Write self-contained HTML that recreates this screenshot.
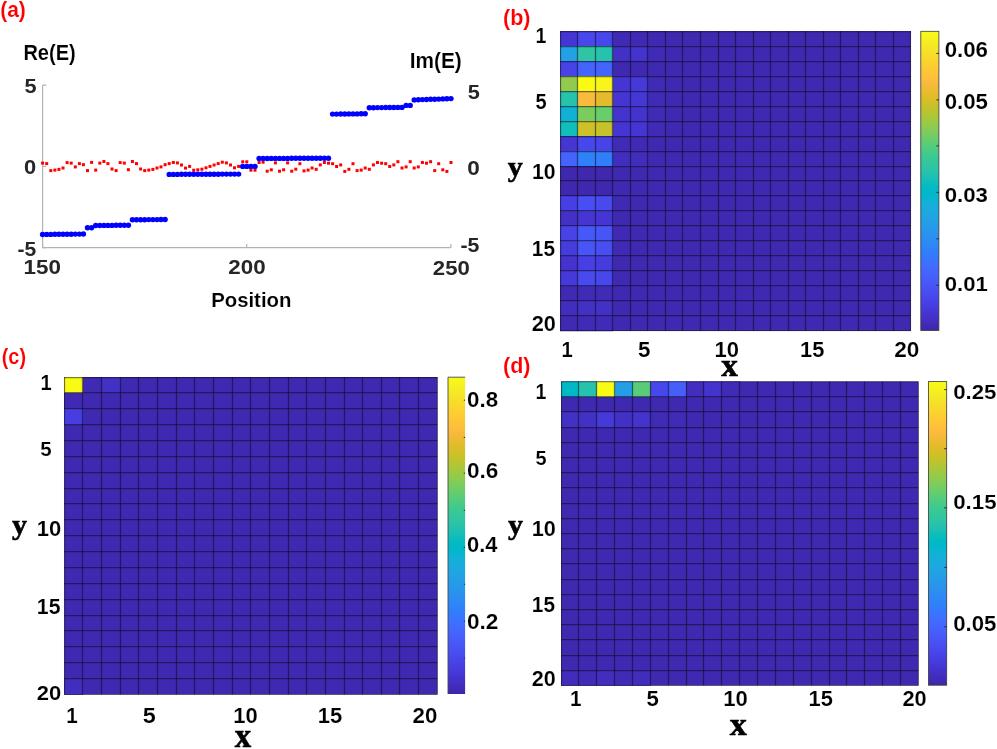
<!DOCTYPE html>
<html lang="en"><head><meta charset="utf-8"><title>Figure</title>
<style>html,body{margin:0;padding:0;background:#fff}body{width:997px;height:749px;overflow:hidden}svg{display:block}text{font-weight:bold}.s{font-family:"Liberation Sans",Arial,sans-serif}.r{font-family:"Liberation Serif","Times New Roman",serif}</style></head>
<body>
<svg width="997" height="749" viewBox="0 0 997 749">
<rect width="997" height="749" fill="#fff"/>
<defs><linearGradient id="pg_b" x1="0" y1="0" x2="0" y2="1"><stop offset="0.0000" stop-color="#f9fb15"/><stop offset="0.0159" stop-color="#f7f51b"/><stop offset="0.0317" stop-color="#f6ef20"/><stop offset="0.0476" stop-color="#f5e924"/><stop offset="0.0635" stop-color="#f5e327"/><stop offset="0.0794" stop-color="#f7dc2a"/><stop offset="0.0952" stop-color="#fad62d"/><stop offset="0.1111" stop-color="#fccf30"/><stop offset="0.1270" stop-color="#fec934"/><stop offset="0.1429" stop-color="#fec338"/><stop offset="0.1587" stop-color="#febe3c"/><stop offset="0.1746" stop-color="#f8ba3d"/><stop offset="0.1905" stop-color="#f0ba36"/><stop offset="0.2063" stop-color="#e6bb2d"/><stop offset="0.2222" stop-color="#dcbd29"/><stop offset="0.2381" stop-color="#d1bf27"/><stop offset="0.2540" stop-color="#c5c22a"/><stop offset="0.2698" stop-color="#b9c431"/><stop offset="0.2857" stop-color="#abc739"/><stop offset="0.3016" stop-color="#9dc943"/><stop offset="0.3175" stop-color="#8fcb4e"/><stop offset="0.3333" stop-color="#81cc59"/><stop offset="0.3492" stop-color="#72cd64"/><stop offset="0.3651" stop-color="#64cd6f"/><stop offset="0.3810" stop-color="#57cc7a"/><stop offset="0.3968" stop-color="#4acb84"/><stop offset="0.4127" stop-color="#3fca8e"/><stop offset="0.4286" stop-color="#37c897"/><stop offset="0.4444" stop-color="#31c69f"/><stop offset="0.4603" stop-color="#2cc4a7"/><stop offset="0.4762" stop-color="#24c1ae"/><stop offset="0.4921" stop-color="#19bfb6"/><stop offset="0.5079" stop-color="#0bbdbd"/><stop offset="0.5238" stop-color="#02bac3"/><stop offset="0.5397" stop-color="#01b8ca"/><stop offset="0.5556" stop-color="#08b5d0"/><stop offset="0.5714" stop-color="#12b1d6"/><stop offset="0.5873" stop-color="#18addb"/><stop offset="0.6032" stop-color="#1ca9df"/><stop offset="0.6190" stop-color="#20a5e3"/><stop offset="0.6349" stop-color="#23a0e5"/><stop offset="0.6508" stop-color="#259be8"/><stop offset="0.6667" stop-color="#2797eb"/><stop offset="0.6825" stop-color="#2b91ef"/><stop offset="0.6984" stop-color="#2d8cf3"/><stop offset="0.7143" stop-color="#2e87f7"/><stop offset="0.7302" stop-color="#2f81fa"/><stop offset="0.7460" stop-color="#327cfc"/><stop offset="0.7619" stop-color="#3875fe"/><stop offset="0.7778" stop-color="#3e6fff"/><stop offset="0.7937" stop-color="#4269fe"/><stop offset="0.8095" stop-color="#4563fd"/><stop offset="0.8254" stop-color="#465efb"/><stop offset="0.8413" stop-color="#4758f8"/><stop offset="0.8571" stop-color="#4852f4"/><stop offset="0.8730" stop-color="#484df0"/><stop offset="0.8889" stop-color="#4747eb"/><stop offset="0.9048" stop-color="#4741e5"/><stop offset="0.9206" stop-color="#463cde"/><stop offset="0.9365" stop-color="#4537d5"/><stop offset="0.9524" stop-color="#4332cb"/><stop offset="0.9683" stop-color="#422ec0"/><stop offset="0.9841" stop-color="#402ab4"/><stop offset="1.0000" stop-color="#3e26a8"/></linearGradient><linearGradient id="pg_c" x1="0" y1="0" x2="0" y2="1"><stop offset="0.0000" stop-color="#f9fb15"/><stop offset="0.0159" stop-color="#f7f51b"/><stop offset="0.0317" stop-color="#f6ef20"/><stop offset="0.0476" stop-color="#f5e924"/><stop offset="0.0635" stop-color="#f5e327"/><stop offset="0.0794" stop-color="#f7dc2a"/><stop offset="0.0952" stop-color="#fad62d"/><stop offset="0.1111" stop-color="#fccf30"/><stop offset="0.1270" stop-color="#fec934"/><stop offset="0.1429" stop-color="#fec338"/><stop offset="0.1587" stop-color="#febe3c"/><stop offset="0.1746" stop-color="#f8ba3d"/><stop offset="0.1905" stop-color="#f0ba36"/><stop offset="0.2063" stop-color="#e6bb2d"/><stop offset="0.2222" stop-color="#dcbd29"/><stop offset="0.2381" stop-color="#d1bf27"/><stop offset="0.2540" stop-color="#c5c22a"/><stop offset="0.2698" stop-color="#b9c431"/><stop offset="0.2857" stop-color="#abc739"/><stop offset="0.3016" stop-color="#9dc943"/><stop offset="0.3175" stop-color="#8fcb4e"/><stop offset="0.3333" stop-color="#81cc59"/><stop offset="0.3492" stop-color="#72cd64"/><stop offset="0.3651" stop-color="#64cd6f"/><stop offset="0.3810" stop-color="#57cc7a"/><stop offset="0.3968" stop-color="#4acb84"/><stop offset="0.4127" stop-color="#3fca8e"/><stop offset="0.4286" stop-color="#37c897"/><stop offset="0.4444" stop-color="#31c69f"/><stop offset="0.4603" stop-color="#2cc4a7"/><stop offset="0.4762" stop-color="#24c1ae"/><stop offset="0.4921" stop-color="#19bfb6"/><stop offset="0.5079" stop-color="#0bbdbd"/><stop offset="0.5238" stop-color="#02bac3"/><stop offset="0.5397" stop-color="#01b8ca"/><stop offset="0.5556" stop-color="#08b5d0"/><stop offset="0.5714" stop-color="#12b1d6"/><stop offset="0.5873" stop-color="#18addb"/><stop offset="0.6032" stop-color="#1ca9df"/><stop offset="0.6190" stop-color="#20a5e3"/><stop offset="0.6349" stop-color="#23a0e5"/><stop offset="0.6508" stop-color="#259be8"/><stop offset="0.6667" stop-color="#2797eb"/><stop offset="0.6825" stop-color="#2b91ef"/><stop offset="0.6984" stop-color="#2d8cf3"/><stop offset="0.7143" stop-color="#2e87f7"/><stop offset="0.7302" stop-color="#2f81fa"/><stop offset="0.7460" stop-color="#327cfc"/><stop offset="0.7619" stop-color="#3875fe"/><stop offset="0.7778" stop-color="#3e6fff"/><stop offset="0.7937" stop-color="#4269fe"/><stop offset="0.8095" stop-color="#4563fd"/><stop offset="0.8254" stop-color="#465efb"/><stop offset="0.8413" stop-color="#4758f8"/><stop offset="0.8571" stop-color="#4852f4"/><stop offset="0.8730" stop-color="#484df0"/><stop offset="0.8889" stop-color="#4747eb"/><stop offset="0.9048" stop-color="#4741e5"/><stop offset="0.9206" stop-color="#463cde"/><stop offset="0.9365" stop-color="#4537d5"/><stop offset="0.9524" stop-color="#4332cb"/><stop offset="0.9683" stop-color="#422ec0"/><stop offset="0.9841" stop-color="#402ab4"/><stop offset="1.0000" stop-color="#3e26a8"/></linearGradient><linearGradient id="pg_d" x1="0" y1="0" x2="0" y2="1"><stop offset="0.0000" stop-color="#f9fb15"/><stop offset="0.0159" stop-color="#f7f51b"/><stop offset="0.0317" stop-color="#f6ef20"/><stop offset="0.0476" stop-color="#f5e924"/><stop offset="0.0635" stop-color="#f5e327"/><stop offset="0.0794" stop-color="#f7dc2a"/><stop offset="0.0952" stop-color="#fad62d"/><stop offset="0.1111" stop-color="#fccf30"/><stop offset="0.1270" stop-color="#fec934"/><stop offset="0.1429" stop-color="#fec338"/><stop offset="0.1587" stop-color="#febe3c"/><stop offset="0.1746" stop-color="#f8ba3d"/><stop offset="0.1905" stop-color="#f0ba36"/><stop offset="0.2063" stop-color="#e6bb2d"/><stop offset="0.2222" stop-color="#dcbd29"/><stop offset="0.2381" stop-color="#d1bf27"/><stop offset="0.2540" stop-color="#c5c22a"/><stop offset="0.2698" stop-color="#b9c431"/><stop offset="0.2857" stop-color="#abc739"/><stop offset="0.3016" stop-color="#9dc943"/><stop offset="0.3175" stop-color="#8fcb4e"/><stop offset="0.3333" stop-color="#81cc59"/><stop offset="0.3492" stop-color="#72cd64"/><stop offset="0.3651" stop-color="#64cd6f"/><stop offset="0.3810" stop-color="#57cc7a"/><stop offset="0.3968" stop-color="#4acb84"/><stop offset="0.4127" stop-color="#3fca8e"/><stop offset="0.4286" stop-color="#37c897"/><stop offset="0.4444" stop-color="#31c69f"/><stop offset="0.4603" stop-color="#2cc4a7"/><stop offset="0.4762" stop-color="#24c1ae"/><stop offset="0.4921" stop-color="#19bfb6"/><stop offset="0.5079" stop-color="#0bbdbd"/><stop offset="0.5238" stop-color="#02bac3"/><stop offset="0.5397" stop-color="#01b8ca"/><stop offset="0.5556" stop-color="#08b5d0"/><stop offset="0.5714" stop-color="#12b1d6"/><stop offset="0.5873" stop-color="#18addb"/><stop offset="0.6032" stop-color="#1ca9df"/><stop offset="0.6190" stop-color="#20a5e3"/><stop offset="0.6349" stop-color="#23a0e5"/><stop offset="0.6508" stop-color="#259be8"/><stop offset="0.6667" stop-color="#2797eb"/><stop offset="0.6825" stop-color="#2b91ef"/><stop offset="0.6984" stop-color="#2d8cf3"/><stop offset="0.7143" stop-color="#2e87f7"/><stop offset="0.7302" stop-color="#2f81fa"/><stop offset="0.7460" stop-color="#327cfc"/><stop offset="0.7619" stop-color="#3875fe"/><stop offset="0.7778" stop-color="#3e6fff"/><stop offset="0.7937" stop-color="#4269fe"/><stop offset="0.8095" stop-color="#4563fd"/><stop offset="0.8254" stop-color="#465efb"/><stop offset="0.8413" stop-color="#4758f8"/><stop offset="0.8571" stop-color="#4852f4"/><stop offset="0.8730" stop-color="#484df0"/><stop offset="0.8889" stop-color="#4747eb"/><stop offset="0.9048" stop-color="#4741e5"/><stop offset="0.9206" stop-color="#463cde"/><stop offset="0.9365" stop-color="#4537d5"/><stop offset="0.9524" stop-color="#4332cb"/><stop offset="0.9683" stop-color="#422ec0"/><stop offset="0.9841" stop-color="#402ab4"/><stop offset="1.0000" stop-color="#3e26a8"/></linearGradient></defs>
<g id="b">
<rect x="560.20" y="31.10" width="350.70" height="299.80" fill="#3f29b1"/>
<rect x="560.20" y="31.10" width="17.83" height="15.29" fill="#4536d3"/>
<rect x="577.74" y="31.10" width="17.83" height="15.29" fill="#4747eb"/>
<rect x="595.27" y="31.10" width="17.83" height="15.29" fill="#4747eb"/>
<rect x="612.81" y="31.10" width="17.83" height="15.29" fill="#402ab4"/>
<rect x="630.34" y="31.10" width="17.83" height="15.29" fill="#402ab4"/>
<rect x="647.88" y="31.10" width="17.83" height="15.29" fill="#3f29b1"/>
<rect x="560.20" y="46.09" width="17.83" height="15.29" fill="#22a1e4"/>
<rect x="577.74" y="46.09" width="17.83" height="15.29" fill="#2fc5a2"/>
<rect x="595.27" y="46.09" width="17.83" height="15.29" fill="#27c2ac"/>
<rect x="612.81" y="46.09" width="17.83" height="15.29" fill="#4330c5"/>
<rect x="630.34" y="46.09" width="17.83" height="15.29" fill="#4433cc"/>
<rect x="647.88" y="46.09" width="17.83" height="15.29" fill="#402bb7"/>
<rect x="560.20" y="61.08" width="17.83" height="15.29" fill="#4743e7"/>
<rect x="577.74" y="61.08" width="17.83" height="15.29" fill="#4563fd"/>
<rect x="595.27" y="61.08" width="17.83" height="15.29" fill="#4563fd"/>
<rect x="612.81" y="61.08" width="17.83" height="15.29" fill="#3f29b1"/>
<rect x="630.34" y="61.08" width="17.83" height="15.29" fill="#3f29b1"/>
<rect x="647.88" y="61.08" width="17.83" height="15.29" fill="#3f29b1"/>
<rect x="560.20" y="76.07" width="17.83" height="15.29" fill="#91ca4c"/>
<rect x="577.74" y="76.07" width="17.83" height="15.29" fill="#f9fb15"/>
<rect x="595.27" y="76.07" width="17.83" height="15.29" fill="#f7f51b"/>
<rect x="612.81" y="76.07" width="17.83" height="15.29" fill="#4536d3"/>
<rect x="630.34" y="76.07" width="17.83" height="15.29" fill="#4539d9"/>
<rect x="647.88" y="76.07" width="17.83" height="15.29" fill="#402bb7"/>
<rect x="560.20" y="91.06" width="17.83" height="15.29" fill="#27c2ac"/>
<rect x="577.74" y="91.06" width="17.83" height="15.29" fill="#fabb3d"/>
<rect x="595.27" y="91.06" width="17.83" height="15.29" fill="#e4bb2c"/>
<rect x="612.81" y="91.06" width="17.83" height="15.29" fill="#4536d3"/>
<rect x="630.34" y="91.06" width="17.83" height="15.29" fill="#4537d6"/>
<rect x="647.88" y="91.06" width="17.83" height="15.29" fill="#402bb7"/>
<rect x="560.20" y="106.05" width="17.83" height="15.29" fill="#11b1d6"/>
<rect x="577.74" y="106.05" width="17.83" height="15.29" fill="#7acc5d"/>
<rect x="595.27" y="106.05" width="17.83" height="15.29" fill="#68cd6b"/>
<rect x="612.81" y="106.05" width="17.83" height="15.29" fill="#4433cc"/>
<rect x="630.34" y="106.05" width="17.83" height="15.29" fill="#4433cc"/>
<rect x="647.88" y="106.05" width="17.83" height="15.29" fill="#402bb6"/>
<rect x="560.20" y="121.04" width="17.83" height="15.29" fill="#12beb9"/>
<rect x="577.74" y="121.04" width="17.83" height="15.29" fill="#cec028"/>
<rect x="595.27" y="121.04" width="17.83" height="15.29" fill="#c6c22a"/>
<rect x="612.81" y="121.04" width="17.83" height="15.29" fill="#4536d3"/>
<rect x="630.34" y="121.04" width="17.83" height="15.29" fill="#4536d3"/>
<rect x="647.88" y="121.04" width="17.83" height="15.29" fill="#402bb7"/>
<rect x="560.20" y="136.03" width="17.83" height="15.29" fill="#4536d3"/>
<rect x="577.74" y="136.03" width="17.83" height="15.29" fill="#4747eb"/>
<rect x="595.27" y="136.03" width="17.83" height="15.29" fill="#4743e7"/>
<rect x="612.81" y="136.03" width="17.83" height="15.29" fill="#402bb6"/>
<rect x="630.34" y="136.03" width="17.83" height="15.29" fill="#402ab4"/>
<rect x="560.20" y="151.02" width="17.83" height="15.29" fill="#4563fd"/>
<rect x="577.74" y="151.02" width="17.83" height="15.29" fill="#2f81fa"/>
<rect x="595.27" y="151.02" width="17.83" height="15.29" fill="#317efb"/>
<rect x="612.81" y="151.02" width="17.83" height="15.29" fill="#422ebe"/>
<rect x="630.34" y="151.02" width="17.83" height="15.29" fill="#412dbb"/>
<rect x="560.20" y="166.01" width="17.83" height="15.29" fill="#3f28ae"/>
<rect x="577.74" y="166.01" width="17.83" height="15.29" fill="#3f28ae"/>
<rect x="595.27" y="166.01" width="17.83" height="15.29" fill="#3f28ae"/>
<rect x="560.20" y="181.00" width="17.83" height="15.29" fill="#3f28ae"/>
<rect x="577.74" y="181.00" width="17.83" height="15.29" fill="#3f28ae"/>
<rect x="595.27" y="181.00" width="17.83" height="15.29" fill="#3f28ae"/>
<rect x="560.20" y="195.99" width="17.83" height="15.29" fill="#473fe3"/>
<rect x="577.74" y="195.99" width="17.83" height="15.29" fill="#484ef1"/>
<rect x="595.27" y="195.99" width="17.83" height="15.29" fill="#484aee"/>
<rect x="612.81" y="195.99" width="17.83" height="15.29" fill="#402ab4"/>
<rect x="560.20" y="210.98" width="17.83" height="15.29" fill="#4330c5"/>
<rect x="577.74" y="210.98" width="17.83" height="15.29" fill="#4536d3"/>
<rect x="595.27" y="210.98" width="17.83" height="15.29" fill="#4536d3"/>
<rect x="560.20" y="225.97" width="17.83" height="15.29" fill="#4743e7"/>
<rect x="577.74" y="225.97" width="17.83" height="15.29" fill="#4758f8"/>
<rect x="595.27" y="225.97" width="17.83" height="15.29" fill="#4755f6"/>
<rect x="612.81" y="225.97" width="17.83" height="15.29" fill="#402ab4"/>
<rect x="560.20" y="240.96" width="17.83" height="15.29" fill="#463cde"/>
<rect x="577.74" y="240.96" width="17.83" height="15.29" fill="#4755f6"/>
<rect x="595.27" y="240.96" width="17.83" height="15.29" fill="#484ef1"/>
<rect x="612.81" y="240.96" width="17.83" height="15.29" fill="#402ab4"/>
<rect x="560.20" y="255.95" width="17.83" height="15.29" fill="#4433cc"/>
<rect x="577.74" y="255.95" width="17.83" height="15.29" fill="#473fe3"/>
<rect x="595.27" y="255.95" width="17.83" height="15.29" fill="#463cde"/>
<rect x="560.20" y="270.94" width="17.83" height="15.29" fill="#4539d9"/>
<rect x="577.74" y="270.94" width="17.83" height="15.29" fill="#484aee"/>
<rect x="595.27" y="270.94" width="17.83" height="15.29" fill="#4747eb"/>
<rect x="612.81" y="270.94" width="17.83" height="15.29" fill="#402ab4"/>
<rect x="560.20" y="285.93" width="17.83" height="15.29" fill="#402ab4"/>
<rect x="577.74" y="285.93" width="17.83" height="15.29" fill="#402bb7"/>
<rect x="595.27" y="285.93" width="17.83" height="15.29" fill="#402bb7"/>
<rect x="560.20" y="300.92" width="17.83" height="15.29" fill="#422ebe"/>
<rect x="577.74" y="300.92" width="17.83" height="15.29" fill="#4330c5"/>
<rect x="595.27" y="300.92" width="17.83" height="15.29" fill="#4330c5"/>
<rect x="560.20" y="315.91" width="17.83" height="15.29" fill="#402ab4"/>
<rect x="577.74" y="315.91" width="17.83" height="15.29" fill="#402bb7"/>
<rect x="595.27" y="315.91" width="17.83" height="15.29" fill="#402bb7"/>
<clipPath id="cp_b"><rect x="559.90" y="30.80" width="351.70" height="300.80"/></clipPath>
<g clip-path="url(#cp_b)" stroke="#08080f" stroke-opacity="0.5" stroke-width="1.25" fill="none"><path d="M560.5 31.10V330.90M577.5 31.10V330.90M595.5 31.10V330.90M612.5 31.10V330.90M630.5 31.10V330.90M647.5 31.10V330.90M665.5 31.10V330.90M682.5 31.10V330.90M700.5 31.10V330.90M718.5 31.10V330.90M735.5 31.10V330.90M753.5 31.10V330.90M770.5 31.10V330.90M788.5 31.10V330.90M805.5 31.10V330.90M823.5 31.10V330.90M840.5 31.10V330.90M858.5 31.10V330.90M875.5 31.10V330.90M893.5 31.10V330.90M910.5 31.10V330.90"/><path d="M560.20 31.5H910.90M560.20 46.5H910.90M560.20 61.5H910.90M560.20 76.5H910.90M560.20 91.5H910.90M560.20 106.5H910.90M560.20 121.5H910.90M560.20 136.5H910.90M560.20 151.5H910.90M560.20 166.5H910.90M560.20 180.5H910.90M560.20 195.5H910.90M560.20 210.5H910.90M560.20 225.5H910.90M560.20 240.5H910.90M560.20 255.5H910.90M560.20 270.5H910.90M560.20 285.5H910.90M560.20 300.5H910.90M560.20 315.5H910.90M560.20 330.5H910.90"/></g>
<rect x="920.80" y="31.30" width="18.10" height="299.30" fill="url(#pg_b)"/>
<rect x="920.80" y="31.30" width="18.10" height="299.30" fill="none" stroke="#3a3a3a" stroke-width="0.8"/>
<path d="M938.90 53.40H936.40M938.90 99.90H936.40M938.90 145.90H936.40M938.90 192.40H936.40M938.90 238.80H936.40M938.90 285.30H936.40" stroke="#2a2a2a" stroke-width="1" fill="none"/>
</g>
<g id="c">
<rect x="64.20" y="377.00" width="373.10" height="317.40" fill="#3f29b1"/>
<rect x="64.20" y="377.00" width="18.96" height="16.17" fill="#f9fb15"/>
<rect x="82.86" y="377.00" width="18.96" height="16.17" fill="#402ab4"/>
<rect x="101.51" y="377.00" width="18.96" height="16.17" fill="#4330c5"/>
<rect x="64.20" y="392.87" width="18.96" height="16.17" fill="#402ab4"/>
<rect x="64.20" y="408.74" width="18.96" height="16.17" fill="#463ee1"/>
<rect x="64.20" y="678.53" width="18.96" height="16.17" fill="#422ebe"/>
<clipPath id="cp_c"><rect x="63.90" y="376.70" width="374.10" height="318.40"/></clipPath>
<g clip-path="url(#cp_c)" stroke="#08080f" stroke-opacity="0.5" stroke-width="1.25" fill="none"><path d="M64.5 377.00V694.40M82.5 377.00V694.40M101.5 377.00V694.40M120.5 377.00V694.40M138.5 377.00V694.40M157.5 377.00V694.40M176.5 377.00V694.40M194.5 377.00V694.40M213.5 377.00V694.40M232.5 377.00V694.40M250.5 377.00V694.40M269.5 377.00V694.40M288.5 377.00V694.40M306.5 377.00V694.40M325.5 377.00V694.40M344.5 377.00V694.40M362.5 377.00V694.40M381.5 377.00V694.40M399.5 377.00V694.40M418.5 377.00V694.40M437.5 377.00V694.40"/><path d="M64.20 377.5H437.30M64.20 392.5H437.30M64.20 408.5H437.30M64.20 424.5H437.30M64.20 440.5H437.30M64.20 456.5H437.30M64.20 472.5H437.30M64.20 488.5H437.30M64.20 503.5H437.30M64.20 519.5H437.30M64.20 535.5H437.30M64.20 551.5H437.30M64.20 567.5H437.30M64.20 583.5H437.30M64.20 599.5H437.30M64.20 615.5H437.30M64.20 630.5H437.30M64.20 646.5H437.30M64.20 662.5H437.30M64.20 678.5H437.30M64.20 694.5H437.30"/></g>
<rect x="448.00" y="377.20" width="17.10" height="316.80" fill="url(#pg_c)"/>
<path d="M448.00 694.00V377.20H465.10" fill="none" stroke="#4a4a4a" stroke-width="0.9"/>
<path d="M465.10 400.20H463.80M465.10 437.40H463.80M465.10 473.20H463.80M465.10 510.30H463.80M465.10 547.40H463.80M465.10 584.30H463.80M465.10 621.20H463.80M465.10 658.20H463.80" stroke="#2a2a2a" stroke-width="1" fill="none"/>
</g>
<g id="d">
<rect x="561.10" y="381.50" width="357.20" height="303.90" fill="#3f29b1"/>
<rect x="561.10" y="381.50" width="18.16" height="15.49" fill="#01b9c6"/>
<rect x="578.96" y="381.50" width="18.16" height="15.49" fill="#27c2ac"/>
<rect x="596.82" y="381.50" width="18.16" height="15.49" fill="#f9fb15"/>
<rect x="614.68" y="381.50" width="18.16" height="15.49" fill="#249fe6"/>
<rect x="632.54" y="381.50" width="18.16" height="15.49" fill="#58cc79"/>
<rect x="650.40" y="381.50" width="18.16" height="15.49" fill="#4747eb"/>
<rect x="668.26" y="381.50" width="18.16" height="15.49" fill="#465ffb"/>
<rect x="686.12" y="381.50" width="18.16" height="15.49" fill="#422ebe"/>
<rect x="703.98" y="381.50" width="18.16" height="15.49" fill="#4433cc"/>
<rect x="721.84" y="381.50" width="18.16" height="15.49" fill="#402bb7"/>
<rect x="561.10" y="411.89" width="18.16" height="15.49" fill="#4330c5"/>
<rect x="578.96" y="411.89" width="18.16" height="15.49" fill="#4330c5"/>
<rect x="596.82" y="411.89" width="18.16" height="15.49" fill="#4539d9"/>
<rect x="614.68" y="411.89" width="18.16" height="15.49" fill="#4330c5"/>
<rect x="632.54" y="411.89" width="18.16" height="15.49" fill="#4433cc"/>
<rect x="650.40" y="411.89" width="18.16" height="15.49" fill="#402bb7"/>
<rect x="668.26" y="411.89" width="18.16" height="15.49" fill="#402bb7"/>
<rect x="561.10" y="670.20" width="18.16" height="15.49" fill="#412dbb"/>
<rect x="578.96" y="670.20" width="18.16" height="15.49" fill="#402bb7"/>
<rect x="596.82" y="670.20" width="18.16" height="15.49" fill="#422ebe"/>
<rect x="614.68" y="670.20" width="18.16" height="15.49" fill="#402bb7"/>
<rect x="632.54" y="670.20" width="18.16" height="15.49" fill="#412dbb"/>
<clipPath id="cp_d"><rect x="560.80" y="381.20" width="358.20" height="304.90"/></clipPath>
<g clip-path="url(#cp_d)" stroke="#08080f" stroke-opacity="0.5" stroke-width="1.25" fill="none"><path d="M561.5 381.50V685.40M578.5 381.50V685.40M596.5 381.50V685.40M614.5 381.50V685.40M632.5 381.50V685.40M650.5 381.50V685.40M668.5 381.50V685.40M686.5 381.50V685.40M703.5 381.50V685.40M721.5 381.50V685.40M739.5 381.50V685.40M757.5 381.50V685.40M775.5 381.50V685.40M793.5 381.50V685.40M811.5 381.50V685.40M829.5 381.50V685.40M846.5 381.50V685.40M864.5 381.50V685.40M882.5 381.50V685.40M900.5 381.50V685.40M918.5 381.50V685.40"/><path d="M561.10 381.5H918.30M561.10 396.5H918.30M561.10 411.5H918.30M561.10 427.5H918.30M561.10 442.5H918.30M561.10 457.5H918.30M561.10 472.5H918.30M561.10 487.5H918.30M561.10 503.5H918.30M561.10 518.5H918.30M561.10 533.5H918.30M561.10 548.5H918.30M561.10 563.5H918.30M561.10 579.5H918.30M561.10 594.5H918.30M561.10 609.5H918.30M561.10 624.5H918.30M561.10 639.5H918.30M561.10 655.5H918.30M561.10 670.5H918.30M561.10 685.5H918.30"/></g>
<rect x="928.50" y="381.60" width="18.20" height="303.60" fill="url(#pg_d)"/>
<rect x="928.50" y="381.60" width="18.20" height="303.60" fill="none" stroke="#3a3a3a" stroke-width="0.8"/>
<path d="M946.70 389.60H944.20M946.70 448.70H944.20M946.70 507.80H944.20M946.70 567.30H944.20M946.70 626.80H944.20" stroke="#2a2a2a" stroke-width="1" fill="none"/>
</g>
<g id="a">
<path d="M42.6 85.2V247.6H451.0" stroke="#b2b2b2" stroke-width="1.2" fill="none"/>
<path d="M42.6 85.2h3.6M42.6 166.3h3.6M42.6 247.6h3.6M42.6 247.6v-3.6M246.7 247.6v-3.6M451.0 247.6v-3.6" stroke="#b2b2b2" stroke-width="1.2" fill="none"/>
<g fill="#ff0000"><rect x="41.1" y="161.6" width="3" height="3"/><rect x="45.2" y="162.1" width="3" height="3"/><rect x="49.3" y="169.1" width="3" height="3"/><rect x="53.4" y="168.6" width="3" height="3"/><rect x="57.4" y="167.9" width="3" height="3"/><rect x="61.5" y="166.5" width="3" height="3"/><rect x="65.6" y="161.1" width="3" height="3"/><rect x="69.7" y="161.6" width="3" height="3"/><rect x="73.8" y="165.4" width="3" height="3"/><rect x="77.9" y="162.1" width="3" height="3"/><rect x="81.9" y="163.2" width="3" height="3"/><rect x="86.0" y="169.1" width="3" height="3"/><rect x="90.1" y="160.9" width="3" height="3"/><rect x="94.2" y="168.6" width="3" height="3"/><rect x="98.3" y="161.6" width="3" height="3"/><rect x="102.4" y="160.0" width="3" height="3"/><rect x="106.4" y="162.1" width="3" height="3"/><rect x="110.5" y="167.5" width="3" height="3"/><rect x="114.6" y="169.1" width="3" height="3"/><rect x="118.7" y="161.1" width="3" height="3"/><rect x="122.8" y="161.6" width="3" height="3"/><rect x="126.9" y="168.2" width="3" height="3"/><rect x="130.9" y="160.0" width="3" height="3"/><rect x="135.0" y="162.1" width="3" height="3"/><rect x="139.1" y="167.5" width="3" height="3"/><rect x="143.2" y="169.1" width="3" height="3"/><rect x="147.3" y="168.6" width="3" height="3"/><rect x="151.4" y="167.9" width="3" height="3"/><rect x="155.5" y="166.5" width="3" height="3"/><rect x="159.5" y="165.4" width="3" height="3"/><rect x="163.6" y="163.2" width="3" height="3"/><rect x="167.7" y="162.1" width="3" height="3"/><rect x="171.8" y="161.0" width="3" height="3"/><rect x="175.9" y="161.4" width="3" height="3"/><rect x="180.0" y="163.5" width="3" height="3"/><rect x="184.0" y="166.6" width="3" height="3"/><rect x="188.1" y="164.9" width="3" height="3"/><rect x="192.2" y="168.7" width="3" height="3"/><rect x="196.3" y="168.3" width="3" height="3"/><rect x="200.4" y="167.7" width="3" height="3"/><rect x="204.5" y="166.3" width="3" height="3"/><rect x="208.5" y="164.9" width="3" height="3"/><rect x="212.6" y="163.5" width="3" height="3"/><rect x="216.7" y="162.1" width="3" height="3"/><rect x="220.8" y="160.7" width="3" height="3"/><rect x="224.9" y="161.4" width="3" height="3"/><rect x="229.0" y="163.5" width="3" height="3"/><rect x="233.0" y="166.3" width="3" height="3"/><rect x="237.1" y="164.9" width="3" height="3"/><rect x="241.2" y="160.3" width="3" height="3"/><rect x="245.3" y="160.3" width="3" height="3"/><rect x="249.4" y="168.7" width="3" height="3"/><rect x="253.5" y="168.7" width="3" height="3"/><rect x="257.6" y="161.0" width="3" height="3"/><rect x="261.6" y="160.7" width="3" height="3"/><rect x="265.7" y="169.7" width="3" height="3"/><rect x="269.8" y="168.3" width="3" height="3"/><rect x="273.9" y="161.4" width="3" height="3"/><rect x="278.0" y="169.7" width="3" height="3"/><rect x="282.1" y="168.3" width="3" height="3"/><rect x="286.1" y="161.4" width="3" height="3"/><rect x="290.2" y="169.7" width="3" height="3"/><rect x="294.3" y="167.7" width="3" height="3"/><rect x="298.4" y="162.2" width="3" height="3"/><rect x="302.5" y="169.4" width="3" height="3"/><rect x="306.6" y="168.6" width="3" height="3"/><rect x="310.6" y="166.5" width="3" height="3"/><rect x="314.7" y="167.8" width="3" height="3"/><rect x="318.8" y="163.4" width="3" height="3"/><rect x="322.9" y="161.0" width="3" height="3"/><rect x="327.0" y="161.7" width="3" height="3"/><rect x="331.1" y="162.2" width="3" height="3"/><rect x="335.1" y="165.0" width="3" height="3"/><rect x="339.2" y="163.4" width="3" height="3"/><rect x="343.3" y="169.9" width="3" height="3"/><rect x="347.4" y="167.8" width="3" height="3"/><rect x="351.5" y="162.2" width="3" height="3"/><rect x="355.6" y="169.1" width="3" height="3"/><rect x="359.7" y="168.6" width="3" height="3"/><rect x="363.7" y="166.5" width="3" height="3"/><rect x="367.8" y="167.8" width="3" height="3"/><rect x="371.9" y="163.4" width="3" height="3"/><rect x="376.0" y="161.0" width="3" height="3"/><rect x="380.1" y="161.7" width="3" height="3"/><rect x="384.2" y="162.2" width="3" height="3"/><rect x="388.2" y="165.0" width="3" height="3"/><rect x="392.3" y="163.4" width="3" height="3"/><rect x="396.4" y="160.2" width="3" height="3"/><rect x="400.5" y="166.5" width="3" height="3"/><rect x="404.6" y="165.4" width="3" height="3"/><rect x="408.7" y="160.2" width="3" height="3"/><rect x="412.7" y="166.5" width="3" height="3"/><rect x="416.8" y="165.4" width="3" height="3"/><rect x="420.9" y="161.0" width="3" height="3"/><rect x="425.0" y="161.7" width="3" height="3"/><rect x="429.1" y="160.2" width="3" height="3"/><rect x="433.2" y="169.1" width="3" height="3"/><rect x="437.2" y="162.2" width="3" height="3"/><rect x="441.3" y="168.3" width="3" height="3"/><rect x="445.4" y="169.9" width="3" height="3"/><rect x="449.5" y="161.0" width="3" height="3"/></g>
<g fill="#0000ff"><circle cx="42.6" cy="234.5" r="2.7"/><circle cx="46.7" cy="234.4" r="2.7"/><circle cx="50.8" cy="234.4" r="2.7"/><circle cx="54.9" cy="234.3" r="2.7"/><circle cx="58.9" cy="234.3" r="2.7"/><circle cx="63.0" cy="234.2" r="2.7"/><circle cx="67.1" cy="234.2" r="2.7"/><circle cx="71.2" cy="234.2" r="2.7"/><circle cx="75.3" cy="234.1" r="2.7"/><circle cx="79.4" cy="234.1" r="2.7"/><circle cx="83.4" cy="234.0" r="2.7"/><circle cx="87.5" cy="227.7" r="2.7"/><circle cx="91.6" cy="227.7" r="2.7"/><circle cx="95.7" cy="225.5" r="2.7"/><circle cx="99.8" cy="225.5" r="2.7"/><circle cx="103.9" cy="225.4" r="2.7"/><circle cx="107.9" cy="225.4" r="2.7"/><circle cx="112.0" cy="225.4" r="2.7"/><circle cx="116.1" cy="225.3" r="2.7"/><circle cx="120.2" cy="225.3" r="2.7"/><circle cx="124.3" cy="225.3" r="2.7"/><circle cx="128.4" cy="225.3" r="2.7"/><circle cx="132.4" cy="219.8" r="2.7"/><circle cx="136.5" cy="219.8" r="2.7"/><circle cx="140.6" cy="219.7" r="2.7"/><circle cx="144.7" cy="219.7" r="2.7"/><circle cx="148.8" cy="219.6" r="2.7"/><circle cx="152.9" cy="219.6" r="2.7"/><circle cx="157.0" cy="219.6" r="2.7"/><circle cx="161.0" cy="219.5" r="2.7"/><circle cx="165.1" cy="219.5" r="2.7"/><circle cx="169.2" cy="174.4" r="2.7"/><circle cx="173.3" cy="174.4" r="2.7"/><circle cx="177.4" cy="174.4" r="2.7"/><circle cx="181.5" cy="174.3" r="2.7"/><circle cx="185.5" cy="174.3" r="2.7"/><circle cx="189.6" cy="174.3" r="2.7"/><circle cx="193.7" cy="174.3" r="2.7"/><circle cx="197.8" cy="174.3" r="2.7"/><circle cx="201.9" cy="174.2" r="2.7"/><circle cx="206.0" cy="174.2" r="2.7"/><circle cx="210.0" cy="174.2" r="2.7"/><circle cx="214.1" cy="174.2" r="2.7"/><circle cx="218.2" cy="174.2" r="2.7"/><circle cx="222.3" cy="174.1" r="2.7"/><circle cx="226.4" cy="174.1" r="2.7"/><circle cx="230.5" cy="174.1" r="2.7"/><circle cx="234.5" cy="174.1" r="2.7"/><circle cx="238.6" cy="174.1" r="2.7"/><circle cx="242.7" cy="166.4" r="2.7"/><circle cx="246.8" cy="166.4" r="2.7"/><circle cx="250.9" cy="166.4" r="2.7"/><circle cx="255.0" cy="166.4" r="2.7"/><circle cx="259.1" cy="158.5" r="2.7"/><circle cx="263.1" cy="158.5" r="2.7"/><circle cx="267.2" cy="158.5" r="2.7"/><circle cx="271.3" cy="158.4" r="2.7"/><circle cx="275.4" cy="158.4" r="2.7"/><circle cx="279.5" cy="158.4" r="2.7"/><circle cx="283.6" cy="158.4" r="2.7"/><circle cx="287.6" cy="158.4" r="2.7"/><circle cx="291.7" cy="158.3" r="2.7"/><circle cx="295.8" cy="158.3" r="2.7"/><circle cx="299.9" cy="158.3" r="2.7"/><circle cx="304.0" cy="158.3" r="2.7"/><circle cx="308.1" cy="158.3" r="2.7"/><circle cx="312.1" cy="158.2" r="2.7"/><circle cx="316.2" cy="158.2" r="2.7"/><circle cx="320.3" cy="158.2" r="2.7"/><circle cx="324.4" cy="158.2" r="2.7"/><circle cx="328.5" cy="158.2" r="2.7"/><circle cx="332.6" cy="114.1" r="2.7"/><circle cx="336.6" cy="114.1" r="2.7"/><circle cx="340.7" cy="114.0" r="2.7"/><circle cx="344.8" cy="114.0" r="2.7"/><circle cx="348.9" cy="113.9" r="2.7"/><circle cx="353.0" cy="113.9" r="2.7"/><circle cx="357.1" cy="113.9" r="2.7"/><circle cx="361.2" cy="113.8" r="2.7"/><circle cx="365.2" cy="113.8" r="2.7"/><circle cx="369.3" cy="107.7" r="2.7"/><circle cx="373.4" cy="107.7" r="2.7"/><circle cx="377.5" cy="107.6" r="2.7"/><circle cx="381.6" cy="107.6" r="2.7"/><circle cx="385.7" cy="107.5" r="2.7"/><circle cx="389.7" cy="107.5" r="2.7"/><circle cx="393.8" cy="107.5" r="2.7"/><circle cx="397.9" cy="107.4" r="2.7"/><circle cx="402.0" cy="107.4" r="2.7"/><circle cx="406.1" cy="105.4" r="2.7"/><circle cx="410.2" cy="105.4" r="2.7"/><circle cx="414.2" cy="99.9" r="2.7"/><circle cx="418.3" cy="99.8" r="2.7"/><circle cx="422.4" cy="99.6" r="2.7"/><circle cx="426.5" cy="99.5" r="2.7"/><circle cx="430.6" cy="99.3" r="2.7"/><circle cx="434.7" cy="99.2" r="2.7"/><circle cx="438.7" cy="99.1" r="2.7"/><circle cx="442.8" cy="98.9" r="2.7"/><circle cx="446.9" cy="98.8" r="2.7"/><circle cx="451.0" cy="98.6" r="2.7"/></g>
</g>
<g id="labels">
<text class="s" transform="matrix(1.0498 0 0 1.0917 0.19 17.12)" font-size="20" fill="#ff0000" stroke="#fff" stroke-width="0.12">(a)</text>
<text class="s" transform="matrix(1.0024 0 0 1.0784 23.39 59.83)" font-size="20" fill="#000000" stroke="#fff" stroke-width="0.12">Re(E)</text>
<text class="s" transform="matrix(1.0872 0 0 1.0429 24.38 93.19)" font-size="20" fill="#262626">5</text>
<text class="s" transform="matrix(1.0947 0 0 1.0000 24.08 174.00)" font-size="20" fill="#262626">0</text>
<text class="s" transform="matrix(1.0545 0 0 1.0214 17.41 255.69)" font-size="20" fill="#262626">-5</text>
<text class="s" transform="matrix(1.1200 0 0 1.0500 23.50 274.39)" font-size="20" fill="#262626">150</text>
<text class="s" transform="matrix(1.1181 0 0 1.0526 228.36 274.29)" font-size="20" fill="#262626">200</text>
<text class="s" transform="matrix(1.1087 0 0 1.0456 432.87 274.59)" font-size="20" fill="#262626">250</text>
<text class="s" transform="matrix(1.0173 0 0 1.0522 211.17 307.45)" font-size="20" fill="#000000" stroke="#fff" stroke-width="0.12">Position</text>
<text class="s" transform="matrix(1.0413 0 0 1.0784 409.74 67.73)" font-size="20" fill="#000000" stroke="#fff" stroke-width="0.12">Im(E)</text>
<text class="s" transform="matrix(1.0872 0 0 1.0429 467.68 98.59)" font-size="20" fill="#262626">5</text>
<text class="s" transform="matrix(1.1263 0 0 1.0071 467.36 174.80)" font-size="20" fill="#262626">0</text>
<text class="s" transform="matrix(1.0667 0 0 0.9714 460.50 252.01)" font-size="20" fill="#262626">-5</text>
<text class="s" transform="matrix(1.0774 0 0 1.1157 502.96 25.27)" font-size="20" fill="#ff0000" stroke="#fff" stroke-width="0.12">(b)</text>
<text class="s" transform="matrix(0.9805 0 0 1.0778 535.61 43.01)" font-size="20" fill="#000000" stroke="#fff" stroke-width="0.12">1</text>
<text class="s" transform="matrix(1.0021 0 0 1.0586 535.39 108.85)" font-size="20" fill="#000000" stroke="#fff" stroke-width="0.12">5</text>
<text class="s" transform="matrix(1.0627 0 0 1.0836 531.96 179.19)" font-size="20" fill="#000000" stroke="#fff" stroke-width="0.12">10</text>
<text class="s" transform="matrix(1.0400 0 0 1.0729 531.84 255.84)" font-size="20" fill="#000000" stroke="#fff" stroke-width="0.12">15</text>
<text class="s" transform="matrix(1.0901 0 0 1.0821 531.72 330.74)" font-size="20" fill="#000000" stroke="#fff" stroke-width="0.12">20</text>
<text class="r" transform="matrix(1.5053 0 0 1.4000 507.82 175.55)" font-size="20" fill="#000000" stroke="#000" stroke-width="0.4">y</text>
<text class="s" transform="matrix(1.0076 0 0 1.0960 561.38 356.86)" font-size="20" fill="#000000" stroke="#fff" stroke-width="0.12">1</text>
<text class="s" transform="matrix(1.1200 0 0 1.0764 638.10 356.59)" font-size="20" fill="#000000" stroke="#fff" stroke-width="0.12">5</text>
<text class="s" transform="matrix(1.1022 0 0 1.0764 714.46 356.59)" font-size="20" fill="#000000" stroke="#fff" stroke-width="0.12">10</text>
<text class="s" transform="matrix(1.0937 0 0 1.0764 800.07 356.59)" font-size="20" fill="#000000" stroke="#fff" stroke-width="0.12">15</text>
<text class="s" transform="matrix(1.1287 0 0 1.0575 894.29 356.60)" font-size="20" fill="#000000" stroke="#fff" stroke-width="0.12">20</text>
<text class="r" transform="matrix(1.6600 0 0 1.5459 721.20 375.80)" font-size="20" fill="#000000" stroke="#000" stroke-width="0.4">x</text>
<text class="s" transform="matrix(1.1125 0 0 1.0681 944.71 57.24)" font-size="20" fill="#000000" stroke="#fff" stroke-width="0.12">0.06</text>
<text class="s" transform="matrix(1.1125 0 0 1.0729 944.71 108.94)" font-size="20" fill="#000000" stroke="#fff" stroke-width="0.12">0.05</text>
<text class="s" transform="matrix(1.1125 0 0 1.0540 944.71 202.35)" font-size="20" fill="#000000" stroke="#fff" stroke-width="0.12">0.03</text>
<text class="s" transform="matrix(1.1052 0 0 1.0514 944.71 290.55)" font-size="20" fill="#000000" stroke="#fff" stroke-width="0.12">0.01</text>
<text class="s" transform="matrix(0.9920 0 0 1.0784 1.75 363.73)" font-size="20" fill="#ff0000" stroke="#fff" stroke-width="0.12">(c)</text>
<text class="s" transform="matrix(1.0022 0 0 1.0742 40.59 390.16)" font-size="20" fill="#000000" stroke="#fff" stroke-width="0.12">1</text>
<text class="s" transform="matrix(1.0226 0 0 1.0514 40.37 455.75)" font-size="20" fill="#000000" stroke="#fff" stroke-width="0.12">5</text>
<text class="s" transform="matrix(1.1022 0 0 1.0693 36.76 535.54)" font-size="20" fill="#000000" stroke="#fff" stroke-width="0.12">10</text>
<text class="s" transform="matrix(1.0644 0 0 1.0693 36.81 614.04)" font-size="20" fill="#000000" stroke="#fff" stroke-width="0.12">15</text>
<text class="s" transform="matrix(1.0998 0 0 1.0470 36.82 699.70)" font-size="20" fill="#000000" stroke="#fff" stroke-width="0.12">20</text>
<text class="r" transform="matrix(1.5053 0 0 1.3704 12.12 533.78)" font-size="20" fill="#000000" stroke="#000" stroke-width="0.4">y</text>
<text class="s" transform="matrix(1.0292 0 0 1.1287 66.35 723.06)" font-size="20" fill="#000000" stroke="#fff" stroke-width="0.12">1</text>
<text class="s" transform="matrix(1.1713 0 0 1.1086 142.66 722.78)" font-size="20" fill="#000000" stroke="#fff" stroke-width="0.12">5</text>
<text class="s" transform="matrix(1.1022 0 0 1.1086 233.26 722.78)" font-size="20" fill="#000000" stroke="#fff" stroke-width="0.12">10</text>
<text class="s" transform="matrix(1.0985 0 0 1.1086 317.87 722.78)" font-size="20" fill="#000000" stroke="#fff" stroke-width="0.12">15</text>
<text class="s" transform="matrix(1.1142 0 0 1.0891 412.60 722.79)" font-size="20" fill="#000000" stroke="#fff" stroke-width="0.12">20</text>
<text class="r" transform="matrix(1.6400 0 0 1.6324 234.70 747.10)" font-size="20" fill="#000000" stroke="#000" stroke-width="0.4">x</text>
<text class="s" transform="matrix(1.1177 0 0 1.0611 467.00 407.04)" font-size="20" fill="#000000" stroke="#fff" stroke-width="0.12">0.8</text>
<text class="s" transform="matrix(1.1284 0 0 1.0611 466.99 477.74)" font-size="20" fill="#000000" stroke="#fff" stroke-width="0.12">0.6</text>
<text class="s" transform="matrix(1.0970 0 0 1.0729 467.02 552.34)" font-size="20" fill="#000000" stroke="#fff" stroke-width="0.12">0.4</text>
<text class="s" transform="matrix(1.1284 0 0 1.0681 466.99 628.54)" font-size="20" fill="#000000" stroke="#fff" stroke-width="0.12">0.2</text>
<text class="s" transform="matrix(1.0774 0 0 1.0731 502.96 372.55)" font-size="20" fill="#ff0000" stroke="#fff" stroke-width="0.12">(d)</text>
<text class="s" transform="matrix(0.9805 0 0 1.0669 535.61 398.96)" font-size="20" fill="#000000" stroke="#fff" stroke-width="0.12">1</text>
<text class="s" transform="matrix(0.9969 0 0 1.0550 535.49 465.00)" font-size="20" fill="#000000" stroke="#fff" stroke-width="0.12">5</text>
<text class="s" transform="matrix(1.0874 0 0 1.0693 531.78 535.54)" font-size="20" fill="#000000" stroke="#fff" stroke-width="0.12">10</text>
<text class="s" transform="matrix(1.0400 0 0 1.0657 531.84 611.99)" font-size="20" fill="#000000" stroke="#fff" stroke-width="0.12">15</text>
<text class="s" transform="matrix(1.0805 0 0 1.0611 531.73 685.99)" font-size="20" fill="#000000" stroke="#fff" stroke-width="0.12">20</text>
<text class="r" transform="matrix(1.5053 0 0 1.3852 507.92 533.91)" font-size="20" fill="#000000" stroke="#000" stroke-width="0.4">y</text>
<text class="s" transform="matrix(1.0346 0 0 1.0996 569.95 706.01)" font-size="20" fill="#000000" stroke="#fff" stroke-width="0.12">1</text>
<text class="s" transform="matrix(1.1097 0 0 1.0800 646.41 705.74)" font-size="20" fill="#000000" stroke="#fff" stroke-width="0.12">5</text>
<text class="s" transform="matrix(1.1072 0 0 1.0800 723.16 705.74)" font-size="20" fill="#000000" stroke="#fff" stroke-width="0.12">10</text>
<text class="s" transform="matrix(1.0937 0 0 1.0800 808.57 705.74)" font-size="20" fill="#000000" stroke="#fff" stroke-width="0.12">15</text>
<text class="s" transform="matrix(1.0901 0 0 1.0611 902.42 705.74)" font-size="20" fill="#000000" stroke="#fff" stroke-width="0.12">20</text>
<text class="r" transform="matrix(1.7100 0 0 1.6108 729.70 734.60)" font-size="20" fill="#000000" stroke="#000" stroke-width="0.4">x</text>
<text class="s" transform="matrix(1.1125 0 0 1.0330 953.21 398.70)" font-size="20" fill="#000000" stroke="#fff" stroke-width="0.12">0.25</text>
<text class="s" transform="matrix(1.1125 0 0 1.0550 953.21 509.40)" font-size="20" fill="#000000" stroke="#fff" stroke-width="0.12">0.15</text>
<text class="s" transform="matrix(1.1125 0 0 1.0586 953.21 631.15)" font-size="20" fill="#000000" stroke="#fff" stroke-width="0.12">0.05</text>
</g>
</svg>
</body></html>
